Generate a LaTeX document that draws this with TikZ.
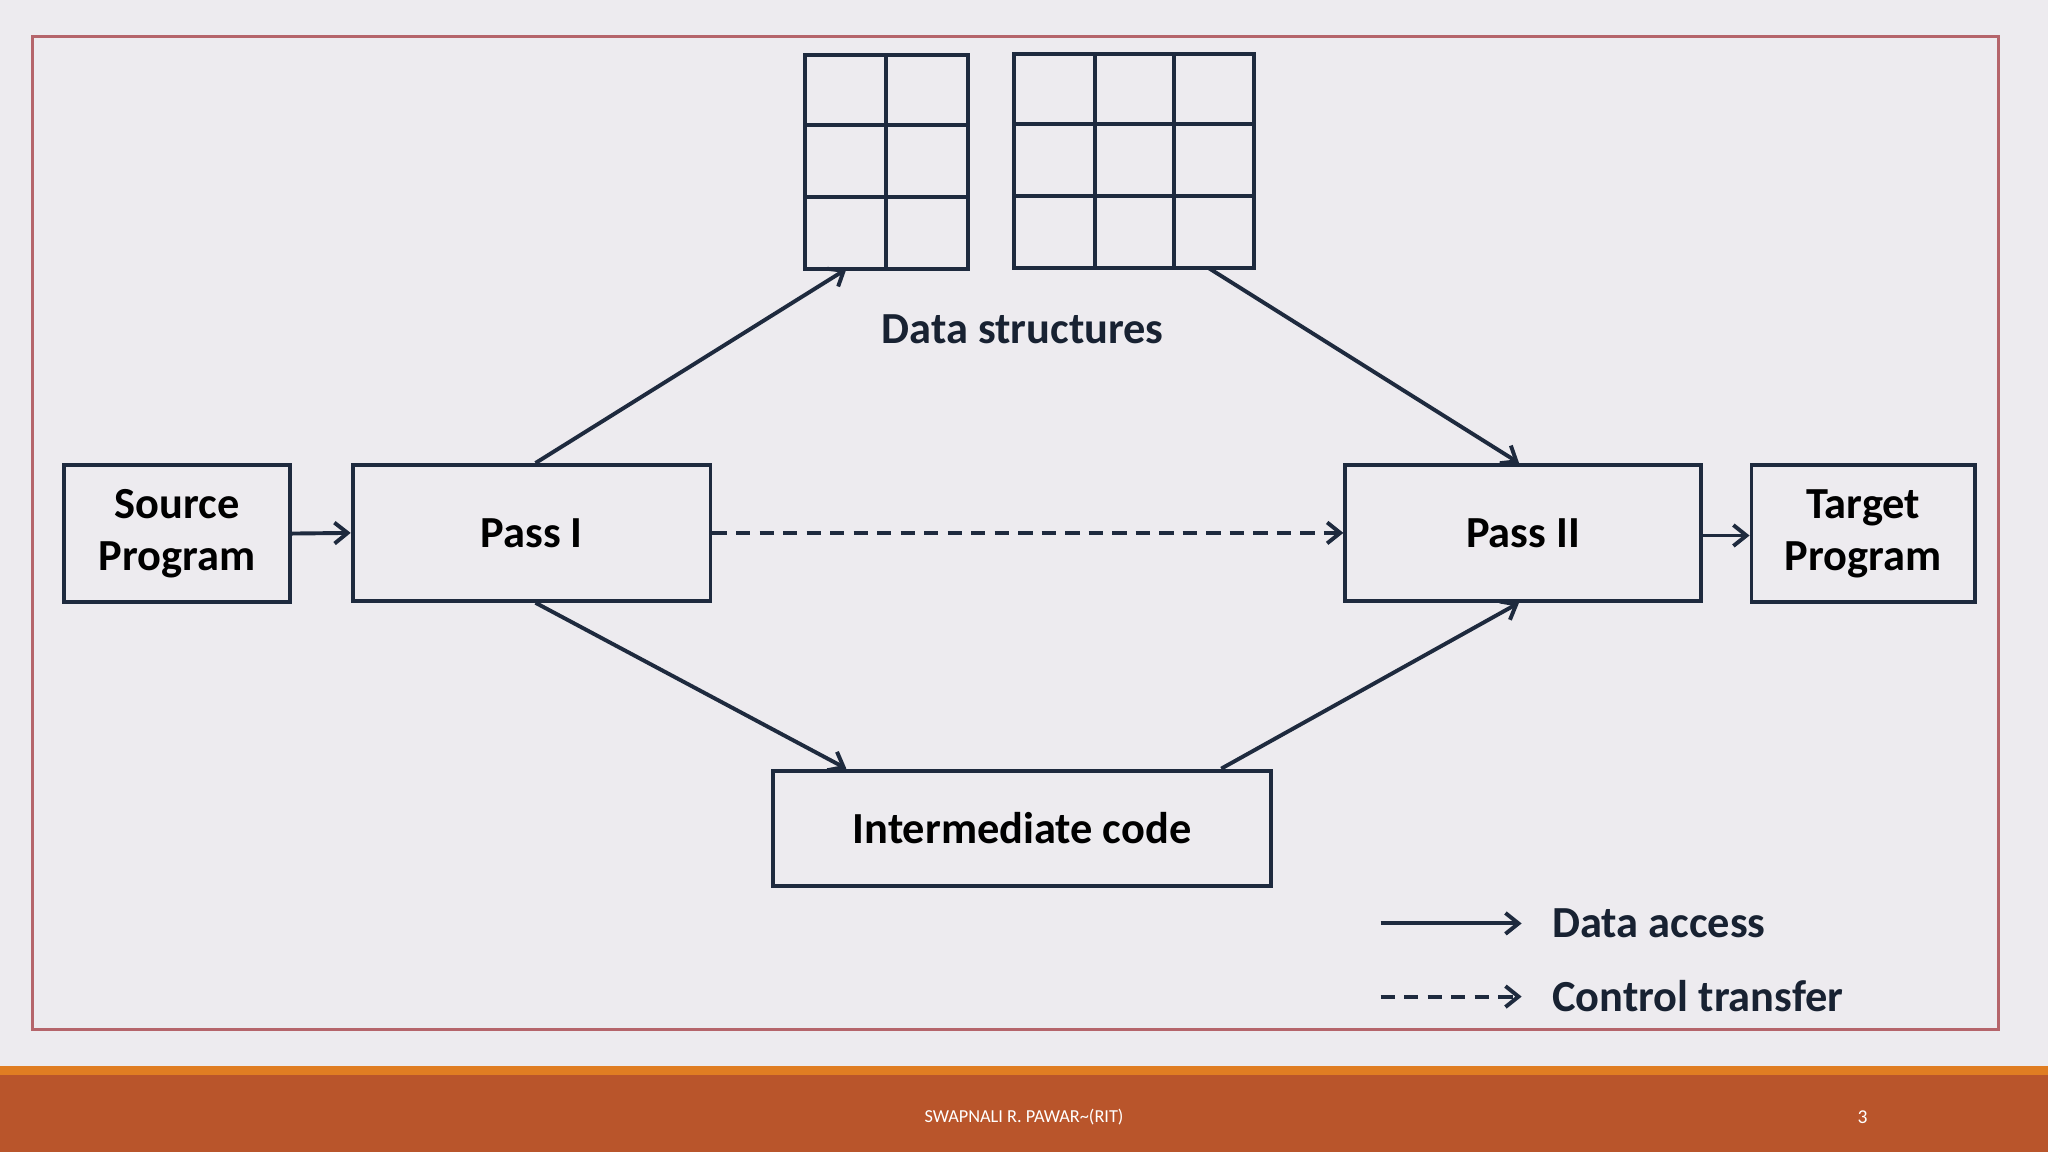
\documentclass[tikz,border=0pt]{standalone}
\usepackage{fontspec}
\setmainfont{Carlito}
\usetikzlibrary{arrows.meta}
\definecolor{bg}{HTML}{EDEBEF}
\definecolor{ln}{HTML}{1E2A3E}
\definecolor{brd}{HTML}{B5656B}
\definecolor{foot}{HTML}{B9552B}
\definecolor{footl}{HTML}{E07D22}
\begin{document}
\begin{tikzpicture}[x=1pt,y=-1pt,
 box/.style={draw=ln,line width=3pt,fill=bg,font=\fontsize{34}{40}\selectfont\bfseries,align=center,inner sep=0pt},
 arr/.style={draw=ln,line width=3pt,-{Straight Barb[length=10pt,width=16pt]}},
 dsh/.style={arr,dash pattern=on 11pt off 7pt},
 lab/.style={font=\fontsize{34}{40}\selectfont\bfseries,text=ln!80!black}]
\fill[bg] (0,0) rectangle (1568,882);
\draw[brd,line width=2pt] (25,28) rectangle (1530,788);
\fill[footl] (0,816) rectangle (1568,823);
\fill[foot] (0,823) rectangle (1568,882);
\node[text=white,font=\fontsize{14}{16}\selectfont] (ft) at (784,855) {SWAPNALI R. PAWAR{\char`\~}(RIT)};
\node[text=white,font=\fontsize{15}{16}\selectfont] (pg) at (1426,855) {3};
% grids
\draw[ln,line width=3pt] (616,42) rectangle (741,206);
\foreach \x in {678} \draw[ln,line width=3pt] (\x,42) -- (\x,206);
\foreach \y in {96,151} \draw[ln,line width=3pt] (616,\y) -- (741,\y);
\draw[ln,line width=3pt] (776,41) rectangle (960,205);
\foreach \x in {838,899} \draw[ln,line width=3pt] (\x,41) -- (\x,205);
\foreach \y in {95,150} \draw[ln,line width=3pt] (776,\y) -- (960,\y);
\coordinate (g1) at (648,206);
\coordinate (g2) at (925,205);
\node[lab] (ds) at (783,252) {Data structures};
\node[box,minimum width=173pt,minimum height=105pt] (src) at (135.5,408.5) {Source\\Program};
\node[box,minimum width=274pt,minimum height=104pt] (p1) at (407,408) {Pass I};
\node[box,minimum width=272pt,minimum height=104pt] (p2) at (1166,408) {Pass II};
\node[box,minimum width=171pt,minimum height=105pt] (tgt) at (1426.5,408.5) {Target\\Program};
\node[box,minimum width=381pt,minimum height=88pt] (ic) at (782.5,634) {Intermediate code};
\draw[arr] (src.east) -- (p1.west);
\draw[dsh] (p1.east) -- (p2.west);
\draw[arr] (p2.east|-0,410) -- (tgt.west|-0,410);
\draw[arr] (p1.north-|410,0) -- (g1);
\draw[arr] (g2) -- (p2.north-|1163,0);
\draw[arr] (p1.south-|410,0) -- (ic.north-|648,0);
\draw[arr] (ic.north-|935,0) -- (p2.south-|1163,0);
\coordinate (l1a) at (1057,707); \coordinate (l1b) at (1165,707);
\coordinate (l2a) at (1057,763); \coordinate (l2b) at (1165,763);
\draw[arr] (l1a) -- (l1b);
\draw[dsh] (l2a) -- (l2b);
\node[lab,anchor=west] (da) at (1185,707) {Data access};
\node[lab,anchor=west] (ct) at (1185,763) {Control transfer};
\end{tikzpicture}
\end{document}
